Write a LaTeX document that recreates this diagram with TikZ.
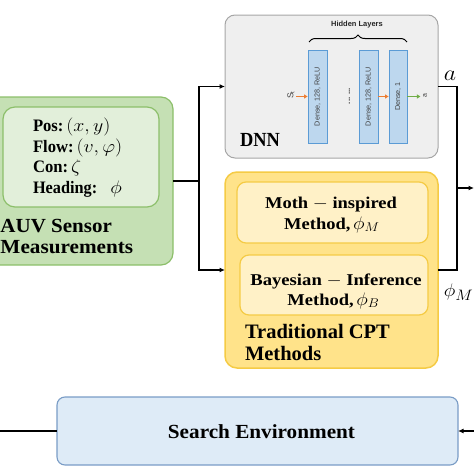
\documentclass[tikz,border=0pt]{standalone}
\usepackage{fontspec}
\setmainfont{Liberation Serif}
\setsansfont{Liberation Sans}
\usepackage{graphicx}
\usetikzlibrary{arrows.meta,decorations.pathreplacing,calc}
\definecolor{gfill}{HTML}{C5E0B4}
\definecolor{gline}{HTML}{8CBF6A}
\definecolor{ginner}{HTML}{E2EFDA}
\definecolor{yfill}{HTML}{FFE38A}
\definecolor{yline}{HTML}{F5CB45}
\definecolor{yinner}{HTML}{FFF1C7}
\definecolor{dfill}{HTML}{EFEFEF}
\definecolor{dline}{HTML}{A6A6A6}
\definecolor{efill}{HTML}{DEEBF7}
\definecolor{eline}{HTML}{7A9CC6}
\definecolor{lfill}{HTML}{BDD7EE}
\definecolor{lline}{HTML}{5B9BD5}
\definecolor{oarr}{HTML}{ED7D31}
\definecolor{garr}{HTML}{70AD47}
\definecolor{ltext}{HTML}{404040}
\newcommand{\fsz}[1]{\fontsize{#1}{#1}\selectfont}
\newcommand{\hsc}[2]{\scalebox{#1}[1]{#2}}
\newcommand{\mth}[1]{\scalebox{1.15}[1.05]{$#1$}}
\begin{document}
\begin{tikzpicture}[x=1pt,y=-1pt,
  box/.style={draw, rounded corners=#1, inner sep=0pt, outer sep=0pt},
  box/.default=10pt,
  txt/.style={inner sep=0pt, outer sep=0pt, font=\bfseries},
  conn/.style={draw=black, line width=1.2pt},
  tip/.style={-{Latex[length=5.5pt,width=5pt]}},
  layer/.style={draw=lline, fill=lfill, line width=0.9pt, inner sep=0pt, minimum width=19pt, minimum height=93pt},
  ltxt/.style={inner sep=0pt, rotate=90, font=\sffamily\fsz{7.2}, text=ltext},
  smarr/.style={line width=1.1pt, -{Triangle[length=3.5pt,width=4pt]}}
]
\useasboundingbox (0,0) rectangle (474,474);
\clip (0,0) rectangle (474,474);
% ---- boxes
\node[box=10pt, fill=dfill, draw=dline, line width=1pt, minimum width=213pt, minimum height=143pt] (dnn) at (331.5,86.5) {};
\node[box=12pt, fill=yfill, draw=yline, line width=1.5pt, minimum width=213pt, minimum height=196pt] (cpt) at (331.5,270) {};
\node[box=9pt, fill=yinner, draw=yline, line width=1.2pt, minimum width=191pt, minimum height=61pt] (moth) at (332.5,212.5) {};
\node[box=9pt, fill=yinner, draw=yline, line width=1.2pt, minimum width=188pt, minimum height=60pt] (bayes) at (334,285) {};
\node[box=12pt, fill=gfill, draw=gline, line width=1.2pt, minimum width=193pt, minimum height=168pt] (auv) at (76.5,181) {};
\node[box=12pt, fill=ginner, draw=gline, line width=1.2pt, minimum width=156pt, minimum height=100pt] (auvin) at (81,157) {};
\node[box=8pt, fill=efill, draw=eline, line width=1.1pt, minimum width=401pt, minimum height=68pt] (env) at (257.5,431) {};
% ---- DNN internals
\node[layer] (l1) at (317.5,96.5) {};
\node[layer] (l2) at (368.5,96.5) {};
\node[layer, minimum width=18pt] (l3) at (398,96.5) {};
\node[ltxt] (l1t) at (l1.center) {Dense, 128, ReLU};
\node[ltxt] (l2t) at (l2.center) {Dense, 128, ReLU};
\node[ltxt] (l3t) at (l3.center) {Dense, 1};
\node[ltxt, font=\sffamily\fsz{8.5}] (st) at (291,95) {S\textsubscript{t}};
\node[ltxt, font=\sffamily\bfseries\fsz{8}] (dots) at (349.5,96) {... ...};
\node[ltxt, font=\sffamily\fsz{7}] (aout) at (425,96) {a};
\node[inner sep=0pt, font=\sffamily\bfseries\fsz{7.5}, text=black!85] (hid) at (357,25) {Hidden Layers};
\draw[line width=1pt, decorate, decoration={brace, amplitude=7pt}] (309,42) coordinate (bl) -- (407,42) coordinate (br);
\draw[smarr, draw=oarr, color=oarr] ([xshift=1.5pt]st.south |- l1.west) -- (l1.west);
\draw[smarr, draw=oarr, color=oarr] (l2.east) -- (l3.west);
\draw[smarr, draw=garr, color=garr] (l3.east) -- ([xshift=-2.5pt]aout.north |- l3.east);
% ---- texts
\node[txt, anchor=base west] (pos) at (33,131) {\fsz{17.5}\hsc{0.95}{Pos:}\,\mth{(x,y)}};
\node[txt, anchor=base west] (flow) at (33,152) {\fsz{17.5}\hsc{0.95}{Flow:}\,\mth{(v,\varphi)}};
\node[txt, anchor=base west] (con) at (33,172.5) {\fsz{17.5}\hsc{0.95}{Con:}\,\mth{\zeta}};
\node[txt, anchor=base west] (head) at (33,193) {\fsz{17.5}\hsc{0.93}{Heading:}\hspace{0.75em}\mth{\phi}};
\node[txt, anchor=base west] (auvl1) at (0.5,232) {\fsz{20}\hsc{1.05}{AUV Sensor}};
\node[txt, anchor=base west] (auvl2) at (0.5,253) {\fsz{20}\hsc{1.06}{Measurements}};
\node[txt, anchor=base west] (dnnl) at (240,146) {\fsz{20}\hsc{0.92}{DNN}};
\node[txt, anchor=base] (m1) at (331,208) {\fsz{16.5}\hsc{1.12}{Moth $-$ inspired}};
\node[txt, anchor=base] (m2) at (332,229) {\fsz{16.5}\hsc{1.12}{Method,}\,\mth{\phi_M}};
\node[txt, anchor=base] (b1) at (336,285) {\fsz{16.5}\hsc{1.13}{Bayesian $-$ Inference}};
\node[txt, anchor=base] (b2) at (333.5,305) {\fsz{16.5}\hsc{1.12}{Method,}\,\mth{\phi_B}};
\node[txt, anchor=base west] (cptl1) at (245,338) {\fsz{20.5}Traditional CPT};
\node[txt, anchor=base west] (cptl2) at (245,360) {\fsz{20.5}Methods};
\node[txt, anchor=base] (envl) at (261.5,438) {\fsz{20}\hsc{1.06}{Search Environment}};
% ---- connectors
\coordinate (j1) at ($(auv.east)+(26,0)$);
\draw[conn] (auv.east) -- (j1);
\draw[conn, tip] (j1) |- (dnn.west);
\draw[conn, tip] (j1) |- (cpt.west);
\coordinate (j2) at (457,188);
\draw[conn] (dnn.east) -| (j2) |- (cpt.east);
\coordinate (outR) at (474,188);
\draw[conn, tip] (j2) -- (outR);
\node[inner sep=0pt, anchor=base] (alab) at (450,80) {\fsz{20}\mth{a}};
\node[inner sep=0pt, anchor=base east] (phlab) at (473.5,296) {\fsz{19}\mth{\phi_M}};
\coordinate (inL) at (0,431);
\draw[conn] (inL) -- (env.west);
\coordinate (inR) at (474,431);
\draw[conn, tip] (inR) -- (env.east);
\end{tikzpicture}
\end{document}
